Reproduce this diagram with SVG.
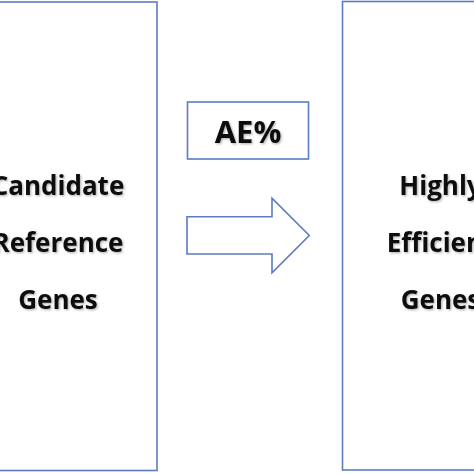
<svg xmlns="http://www.w3.org/2000/svg" width="474" height="474" viewBox="0 0 474 474">
  <defs>
    <style>
      .box { fill: #ffffff; stroke: #5B7BC2; stroke-width: 1.6; }
      .lbl { font-family: "Open Sans", "Liberation Sans", sans-serif; font-weight: 700; fill: #111111; text-anchor: middle; filter: url(#sh); }
    </style>
    <filter id="sh" x="-10%" y="-20%" width="130%" height="150%">
      <feDropShadow dx="1.2" dy="1.2" stdDeviation="0.8" flood-color="#000000" flood-opacity="0.3"/>
    </filter>
  </defs>
  <rect width="474" height="474" fill="#ffffff"/>
  <g id="candidate">
    <rect class="box" x="-40" y="2" width="197" height="468.5"/>
    <text class="lbl" x="58" y="195" font-size="26">Candidate</text>
    <text class="lbl" x="58" y="252" font-size="26">Reference</text>
    <text class="lbl" x="58" y="309" font-size="26">Genes</text>
  </g>
  <g id="highly">
    <rect class="box" x="342.5" y="1.5" width="197" height="468.5"/>
    <text class="lbl" x="440.5" y="195" font-size="26">Highly</text>
    <text class="lbl" x="440.5" y="252" font-size="26">Efficient</text>
    <text class="lbl" x="440.5" y="309" font-size="26">Genes</text>
  </g>
  <g id="ae">
    <rect class="box" x="187.5" y="102" width="121" height="57"/>
    <text class="lbl" x="248" y="143" font-size="31">AE%</text>
  </g>
  <g id="connectors">
    <polygon class="box" points="187,216.7 272,216.7 272,198.3 309.3,235.5 272,272.7 272,254 187,254"/>
  </g>
</svg>
